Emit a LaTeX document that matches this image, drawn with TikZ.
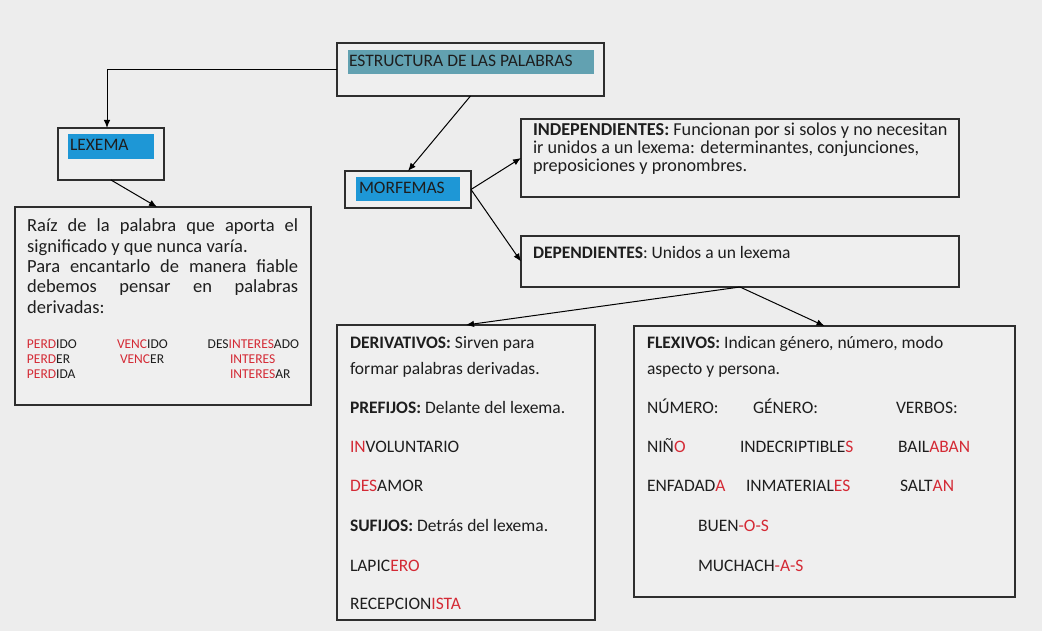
\documentclass[tikz,border=0pt]{standalone}
\usepackage{fontspec}
\setmainfont{Carlito}
\usetikzlibrary{arrows.meta}
\definecolor{bg}{HTML}{EDEDED}
\definecolor{boxfill}{HTML}{EFEFEF}
\definecolor{boxline}{HTML}{2E2E2E}
\definecolor{tealhl}{HTML}{62A1B1}
\definecolor{bluehl}{HTML}{1E97D6}
\definecolor{redt}{HTML}{D42A35}
\definecolor{ink}{HTML}{1E1E1E}
\newcommand{\rd}[1]{\textcolor{redt}{#1}}
\begin{document}
\begin{tikzpicture}[x=1pt,y=-1pt,
 box/.style={draw=boxline,line width=1.1pt,fill=boxfill,anchor=north west,inner sep=0pt,outer sep=0pt},
 hl/.style={anchor=north west,inner sep=0pt,outer sep=0pt},
 txt/.style={anchor=base west,inner sep=0pt,outer sep=0pt,text=ink,font=\fontsize{17.5}{20}\selectfont},
 indtxt/.style={txt,font=\fontsize{18.2}{20}\selectfont},
 smalltxt/.style={anchor=base west,inner sep=0pt,outer sep=0pt,text=ink,font=\fontsize{13.5}{15}\selectfont},
 arr/.style={draw=black,line width=1pt,-{Latex[length=8pt,width=6.5pt]}}]
\useasboundingbox[fill=bg] (0,0) rectangle (1042,631);

% boxes
\node[box,minimum width=267pt,minimum height=53pt] (estr) at (337,43) {};
\node[box,minimum width=106pt,minimum height=52pt] (lex) at (58,128) {};
\node[box,minimum width=296pt,minimum height=198pt] (raiz) at (15,207) {};
\node[box,minimum width=126pt,minimum height=37pt] (morf) at (345,171) {};
\node[box,minimum width=438pt,minimum height=78pt] (indep) at (521,119) {};
\node[box,minimum width=438pt,minimum height=51pt] (dep) at (521,236) {};
\node[box,minimum width=258pt,minimum height=295pt] (deriv) at (337,325) {};
\node[box,minimum width=381pt,minimum height=271pt] (flex) at (634,326) {};

% highlights
\node[hl,fill=tealhl,minimum width=246pt,minimum height=24pt] (estrhl) at (348,50) {};
\node[hl,fill=bluehl,minimum width=86pt,minimum height=25pt] (lexhl) at (68,134) {};
\node[hl,fill=bluehl,minimum width=104pt,minimum height=24pt] (morfhl) at (356,177) {};

% titles
\node[txt] (estrt) at (349,67) {ESTRUCTURA DE LAS PALABRAS};
\node[txt] (lext) at (70,151) {LEXEMA};
\node[txt] (morft) at (359,194) {MORFEMAS};

% arrows
\draw[arr] (estr.west) -| ([xshift=-4pt]lex.north);
\draw[arr] (lex.south) -- ([xshift=-6pt]raiz.north);
\draw[arr] (estr.south) -- (morf.north);
\draw[arr] (morf.east) -- (indep.west);
\draw[arr] (morf.east) -- (dep.west);
\draw[arr] (dep.south) -- (deriv.north);
\draw[arr] (dep.south) -- (flex.north);

% raiz text
\node[anchor=base west,inner sep=0pt,text=ink] (raizt) at (27,232) {\begin{minipage}[t]{271pt}\fontsize{18.5}{20.3}\selectfont
Raíz de la palabra que aporta el\linebreak
significado y que nunca varía.\\
Para encantarlo de manera fiable\linebreak
debemos pensar en palabras\linebreak
derivadas:\end{minipage}};
\node[smalltxt] (w1) at (27,348) {\rd{PERD}IDO};
\node[smalltxt] (w2) at (27,363) {\rd{PERD}ER};
\node[smalltxt] (w3) at (27,378) {\rd{PERD}IDA};
\node[smalltxt] (w4) at (117,348) {\rd{VENC}IDO};
\node[smalltxt] (w5) at (120,363) {\rd{VENC}ER};
\node[smalltxt,anchor=base east] (w6) at (299,348) {DES\rd{INTERES}ADO};
\node[smalltxt] (w7) at (230,363) {\rd{INTERES}};
\node[smalltxt] (w8) at (230,378) {\rd{INTERES}AR};

% independientes / dependientes
\node[indtxt] (i1) at (533,136) {\textbf{INDEPENDIENTES:} Funcionan por si solos y no necesitan};
\node[indtxt] (i2) at (533,154) {ir unidos a un lexema: determinantes, conjunciones,};
\node[indtxt] (i3) at (533,172) {preposiciones y pronombres.};
\node[txt] (d1) at (533,259) {\textbf{DEPENDIENTES}: Unidos a un lexema};

% derivativos
\node[txt] (dv1) at (350,348) {\textbf{DERIVATIVOS:} Sirven para};
\node[txt] (dv2) at (350,374) {formar palabras derivadas.};
\node[txt] (dv3) at (350,413) {\textbf{PREFIJOS:} Delante del lexema.};
\node[txt] (dv4) at (350,452) {\rd{IN}VOLUNTARIO};
\node[txt] (dv5) at (350,491) {\rd{DES}AMOR};
\node[txt] (dv6) at (350,531) {\textbf{SUFIJOS:} Detrás del lexema.};
\node[txt] (dv7) at (350,571) {LAPIC\rd{ERO}};
\node[txt] (dv8) at (350,609) {RECEPCION\rd{ISTA}};

% flexivos
\node[txt] (f1) at (647,348) {\textbf{FLEXIVOS:} Indican género, número, modo};
\node[txt] (f2) at (647,374) {aspecto y persona.};
\node[txt] (f3a) at (647,413) {NÚMERO:};
\node[txt] (f3b) at (753,413) {GÉNERO:};
\node[txt] (f3c) at (896,413) {VERBOS:};
\node[txt] (f4a) at (647,452) {NIÑ\rd{O}};
\node[txt] (f4b) at (740,452) {INDECRIPTIBLE\rd{S}};
\node[txt] (f4c) at (898,452) {BAIL\rd{ABAN}};
\node[txt] (f5a) at (647,491) {ENFADAD\rd{A}};
\node[txt] (f5b) at (746,491) {INMATERIAL\rd{ES}};
\node[txt] (f5c) at (900,491) {SALT\rd{AN}};
\node[txt] (f6) at (698,531) {BUEN\rd{-O-S}};
\node[txt] (f7) at (698,571) {MUCHACH\rd{-A-S}};
\end{tikzpicture}
\end{document}
